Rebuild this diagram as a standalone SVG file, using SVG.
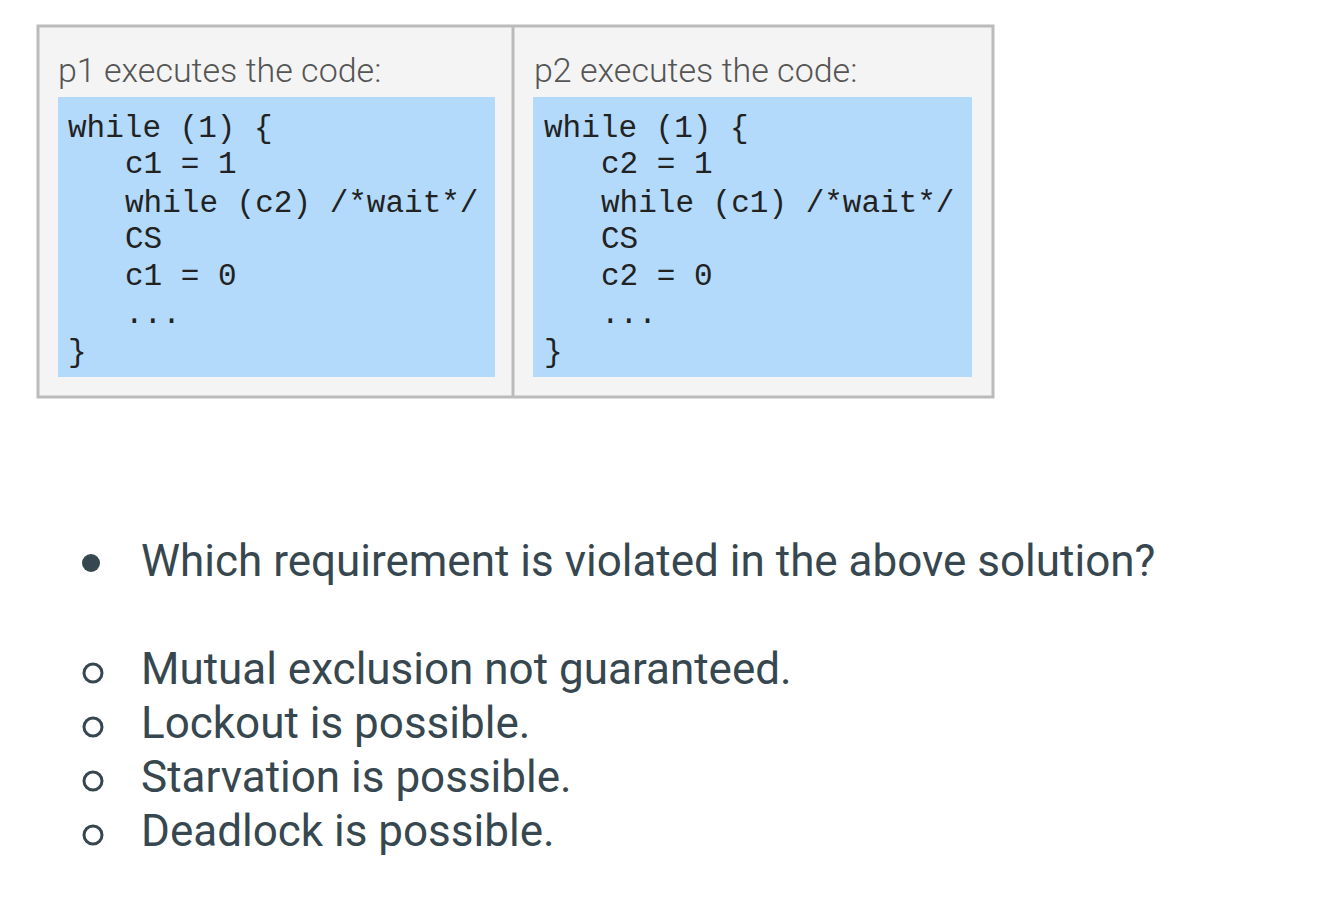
<svg xmlns="http://www.w3.org/2000/svg" width="1320" height="915" viewBox="0 0 1320 915">
<style>
.t{font-family:Roboto,"Liberation Sans",sans-serif;font-weight:300;font-size:34px;fill:#555}
.c{font-family:"Liberation Mono",monospace;font-size:31px;fill:#222}
.q{font-family:Roboto,"Liberation Sans",sans-serif;font-size:44px;fill:#37474f}
</style>
<rect width="1320" height="915" fill="#fff"/>
<rect x="38" y="26" width="955" height="371" fill="#f4f4f4" stroke="#bbb" stroke-width="3"/>
<line x1="513" y1="26" x2="513" y2="397" stroke="#bbb" stroke-width="3"/>
<rect x="58" y="97" width="437" height="280" fill="#b3d9fb"/>
<rect x="533" y="97" width="439" height="280" fill="#b3d9fb"/>
<text class="t" x="58" y="82">p1 executes the code:</text>
<text class="t" x="534" y="82">p2 executes the code:</text>
<g class="c">
<text x="68" y="137">while (1) {</text>
<text x="125" y="173">c1 = 1</text>
<text x="125" y="212">while (c2) /*wait*/</text>
<text x="125" y="248">CS</text>
<text x="125" y="285">c1 = 0</text>
<text x="125" y="323">...</text>
<text x="68" y="361">}</text>
<text x="544" y="137">while (1) {</text>
<text x="601" y="173">c2 = 1</text>
<text x="601" y="212">while (c1) /*wait*/</text>
<text x="601" y="248">CS</text>
<text x="601" y="285">c2 = 0</text>
<text x="601" y="323">...</text>
<text x="544" y="361">}</text>
</g>
<circle cx="91" cy="563" r="9" fill="#37474f"/>
<text class="q" x="141" y="576">Which requirement is violated in the above solution?</text>
<g fill="none" stroke="#37474f" stroke-width="3">
<circle cx="93" cy="673" r="9"/><circle cx="93" cy="727" r="9"/><circle cx="93" cy="781" r="9"/><circle cx="93" cy="835" r="9"/>
</g>
<text class="q" x="141" y="684">Mutual exclusion not guaranteed.</text>
<text class="q" x="141" y="738">Lockout is possible.</text>
<text class="q" x="141" y="792">Starvation is possible.</text>
<text class="q" x="141" y="846">Deadlock is possible.</text>
</svg>
